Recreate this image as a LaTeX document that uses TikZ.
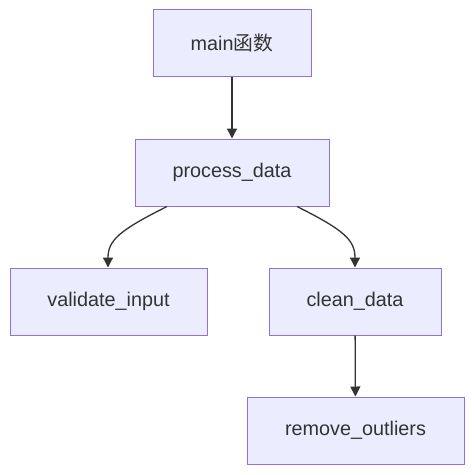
\documentclass[tikz,border=0pt]{standalone}
\usepackage{fontspec}
\setmainfont{Liberation Sans}
\newfontfamily\cjk{Noto Sans CJK SC}
\usepackage{xcolor}
\usetikzlibrary{arrows.meta}
\definecolor{boxfill}{HTML}{ECECFF}
\definecolor{boxline}{HTML}{9370DB}
\definecolor{ink}{HTML}{333333}
\tikzstyle{box} = [draw=boxline, fill=boxfill, line width=1pt, text=ink, font=\fontsize{19.8}{22}\selectfont, minimum height=67pt, inner sep=0pt]
\tikzstyle{arrow} = [draw=ink, line width=1.3pt, -{Triangle[length=10pt,width=10pt]}]

\begin{document}
\begin{tikzpicture}[x=1pt, y=-1pt]
            \useasboundingbox (0,0) rectangle (474,475);

            \node[box, minimum width=158pt] (main) at (232,43) {main{\cjk 函数}};
            \node[box, minimum width=194pt] (process) at (232,172.5) {process\_data};
            \node[box, minimum width=197pt] (validate) at (108.5,301.5) {validate\_input};
            \node[box, minimum width=172pt] (clean) at (355,301.5) {clean\_data};
            \node[box, minimum width=217pt] (remove) at (355.5,430.5) {remove\_outliers};

            \draw[arrow] (main) -- (process);
            \draw[arrow] (process.south -| 167,0) .. controls (120,230) and (108,240) .. (validate.north -| 108,0);
            \draw[arrow] (process.south -| 297,0) .. controls (344,230) and (355,240) .. (clean.north -| 355,0);
            \draw[arrow] (clean) -- (remove);

        \end{tikzpicture}
\end{document}
